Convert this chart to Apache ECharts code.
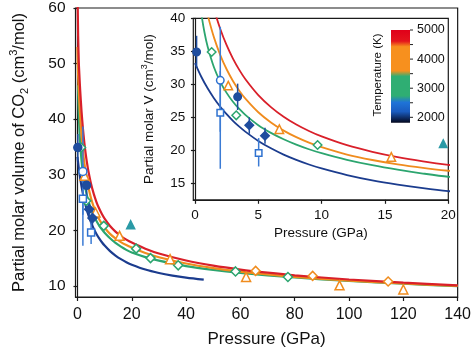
<!DOCTYPE html>
<html><head><meta charset="utf-8">
<script src="https://cdn.jsdelivr.net/npm/echarts@6/dist/echarts.min.js"></script>
<style>html,body{margin:0;padding:0;background:#fff}#c{width:474px;height:353px}</style>
</head><body><div id="c"></div>
<script>
// ---- curves ----
const curvePressure = [0,0.25,0.5,0.75,1,1.5,2,2.5,3,3.5,4,5,6,7,8,9,10,12,14,16,18,20,25,30,40,50,60,70,80,100,120,140];
const curveRed    = [64,55,50.2,47.55,45.24,41.42,38.39,35.93,33.90,32.19,30.73,28.37,26.55,25.09,23.91,22.93,22.10,20.77,19.77,18.97,18.33,17.80,16.70,15.83,14.56,13.64,12.94,12.38,11.90,11.15,10.58,10.10];
const curveOrange = [53,47.87,45.03,42.61,40.52,37.11,34.43,32.28,30.51,29.03,27.78,25.76,24.21,22.98,21.99,21.16,20.47,19.36,18.53,17.87,17.34,16.90,15.91,15.15,14.02,13.20,12.57,12.06,11.63,10.95,10.43,10.00];
const greenPressure = [0.2,0.3,0.5,0.75,1,1.5,2,2.5,3,3.5,4,5,6,7,8,9,10,12,14,16,18,20,25,30,40,50,60,70,80,100,120,140];
const curveGreen    = [46.1,43.96,40.77,37.88,35.72,32.58,30.38,28.70,27.36,26.26,25.33,23.81,22.64,21.67,20.86,20.16,19.56,18.56,17.74,17.06,16.48,15.99,15.18,14.54,13.57,12.88,12.33,11.89,11.51,10.88,10.38,9.95];
const bluePressure = [0,0.5,1,1.5,2,2.5,3,3.5,4,5,6,7,8,9,10,12,14,16,18,20,25,30,35,40,46.5];
const curveBlue    = [33.2,31.14,29.39,27.9,26.6,25.47,24.47,23.58,22.79,21.42,20.30,19.35,18.55,17.85,17.25,16.25,15.45,14.81,14.27,13.82,12.94,12.32,11.85,11.48,11.11];

// ---- data points [P, V] ----
const filledCircles  = [[0.13,34.9],[3.37,28.1]];
const filledCircleErr = [[0.13,32.5,37.35],[3.37,26.1,30.1]];
const filledDiamonds = [[4.29,23.8],[5.53,22.2]];
const filledDiamondErr = [[4.29,22.5,25.0],[5.53,21.0,23.4]];
const openCircles = [[2.0,30.6]];
const openCircleErr = [[2.0,22.8,38.7]];
const openSquares = [[2.0,25.7],[5.03,19.6]];
const openSquareErr = [[2.0,17.2,32.0],[5.03,17.55,21.85]];
const greenDiamonds = [[1.32,34.9],[3.26,25.3],[9.68,20.8],[21.6,16.7],[26.9,15.0],[37.1,13.7],[58.2,12.6],[77.5,11.6]];
const orangeDiamonds = [[65.6,12.7],[86.6,11.8],[114.4,10.8]];
const orangeTriangles = [[2.63,29.8],[6.66,23.2],[15.5,19.0],[34.1,14.8],[62.1,11.6],[96.5,10.1],[120,9.35]];
const tealTriangles = [[19.6,21.0]];

// ---- ticks ----
const mainXTicks = [0,20,40,60,80,100,120,140];
const mainYTicks = [10,20,30,40,50,60];
const insetXTicks = [0,5,10,15,20];
const insetYTicks = [15,20,25,30,35,40];
const cbLabels = [2000,3000,4000,5000];
const cbMinorTicks = [2000,2500,3000,3500,4000,4500,5000];

const C = {red:'#d9202a', orange:'#f08c1e', green:'#2ca56f', blue:'#1b3c8e',
  filled:'#1f4d9e', open:'#2f72d0', openErr:'#3b7bd4', teal:'#2a9aa6', axis:'#1a1a1a'};
const FONT = 'Liberation Sans, Arial, sans-serif';

function pairs(xs, ys){ return xs.map((x,i)=>[x,ys[i]]); }
function line(g, xs, ys, color, w){
  return {type:'line', xAxisIndex:g, yAxisIndex:g, data:pairs(xs,ys), showSymbol:false, symbol:'none',
    smooth:0.3, lineStyle:{color, width:w}, clip:true, silent:true, z:2};
}
function err(g, data, color){
  return {type:'custom', xAxisIndex:g, yAxisIndex:g, data, silent:true, z:3,
    renderItem:(params, api)=>{
      const x = api.value(0);
      const a = api.coord([x, api.value(1)]), b = api.coord([x, api.value(2)]);
      return {type:'line', shape:{x1:a[0],y1:a[1],x2:b[0],y2:b[1]}, style:{stroke:color, lineWidth:1.5}};
    }};
}
function sc(g, data, symbol, size, fill, stroke){
  return {type:'scatter', xAxisIndex:g, yAxisIndex:g, data, symbol, symbolSize:size, silent:true, z:4, clip:true,
    itemStyle:{color:fill, borderColor:stroke, borderWidth:1.5, opacity:1}};
}
const series = [];
[[0,2.2,8],[1,1.8,7.5]].forEach(([g,w,s])=>{
  series.push(line(g, bluePressure, curveBlue, C.blue, w));
  series.push(line(g, greenPressure, curveGreen, C.green, w));
  series.push(line(g, curvePressure, curveOrange, C.orange, w));
  series.push(line(g, curvePressure, curveRed, C.red, w));
  series.push(err(g, openCircleErr, C.openErr));
  series.push(err(g, openSquareErr, C.openErr));
  series.push(err(g, filledCircleErr, C.filled));
  series.push(err(g, filledDiamondErr, C.filled));
  series.push(sc(g, greenDiamonds, 'diamond', s+1, '#fff', C.green));
  series.push(sc(g, orangeDiamonds, 'diamond', s+1, '#fff', C.orange));
  series.push(sc(g, orangeTriangles, 'triangle', s+1, '#fff', C.orange));
  series.push(sc(g, tealTriangles, 'triangle', s, C.teal, C.teal));
  series.push(sc(g, openSquares, 'rect', s-1, '#fff', C.open));
  series.push(sc(g, openCircles, 'circle', s, '#fff', C.open));
  series.push(sc(g, filledCircles, 'circle', s, C.filled, C.filled));
  series.push(sc(g, filledDiamonds, 'diamond', s+1, C.filled, C.filled));
});

function xAx(g, min, max, ticks, fs, name, nfs, gap, margin){
  return {gridIndex:g, type:'value', min, max, splitLine:{show:false},
    axisLine:{lineStyle:{color:C.axis, width:1.2}},
    axisTick:{customValues:ticks, length:4, lineStyle:{color:C.axis, width:1.2}},
    axisLabel:{customValues:ticks, fontSize:fs, color:'#111', margin, fontFamily:FONT},
    name, nameLocation:'middle', nameGap:gap, nameTextStyle:{fontSize:nfs, color:'#111', fontFamily:FONT}};
}
function yAx(g, min, max, ticks, fs, name, nfs, gap, margin){
  const subFs = Math.round(nfs*0.68);
  return {gridIndex:g, type:'value', min, max, splitLine:{show:false},
    axisLine:{lineStyle:{color:C.axis, width:1.2}},
    axisTick:{customValues:ticks, length:4, lineStyle:{color:C.axis, width:1.2}},
    axisLabel:{customValues:ticks, fontSize:fs, color:'#111', margin, fontFamily:FONT},
    name, nameLocation:'middle', nameGap:gap,
    nameTextStyle:{fontSize:nfs, color:'#111', fontFamily:FONT, lineHeight:nfs+6,
      rich:{sub:{fontSize:subFs, lineHeight:subFs+2, verticalAlign:'bottom', fontFamily:FONT, color:'#111'},
            sup:{fontSize:subFs, lineHeight:subFs+2, verticalAlign:'top', fontFamily:FONT, color:'#111'}}}};
}

// colorbar (legend) geometry
const cb = {x:391, y:30, w:19, h:92.7, tMin:1815, tMax:5000};
const tY = t => cb.y + (cb.tMax - t)/(cb.tMax - cb.tMin)*cb.h;
const graphic = [{type:'rect', shape:{x:cb.x, y:cb.y, width:cb.w, height:cb.h}, z:10,
  style:{fill:new echarts.graphic.LinearGradient(0,0,0,1,[
    {offset:0,color:'#e0001a'},{offset:0.12,color:'#e4141c'},{offset:0.18,color:'#f7901e'},
    {offset:0.44,color:'#f7901e'},{offset:0.50,color:'#2fae73'},{offset:0.71,color:'#2fae73'},
    {offset:0.78,color:'#1f74d8'},{offset:0.88,color:'#1a5cc0'},{offset:1,color:'#04081e'}])}}];
cbMinorTicks.forEach(t=>graphic.push({type:'line', z:10, shape:{x1:cb.x+cb.w, y1:tY(t), x2:cb.x+cb.w+3, y2:tY(t)}, style:{stroke:'#222', lineWidth:1}}));
cbLabels.forEach(t=>graphic.push({type:'text', z:10, x:cb.x+cb.w+7, y:tY(t), style:{text:String(t), font:'12.5px '+FONT, fill:'#111', align:'left', verticalAlign:'middle'}}));
graphic.push({type:'text', z:10, x:378, y:75, rotation:Math.PI/2, style:{text:'Temperature (K)', font:'11.5px '+FONT, fill:'#111', align:'center', verticalAlign:'middle'}});

const chart = echarts.init(document.getElementById('c'), null, {renderer:'canvas'});
chart.setOption({
  animation:false,
  textStyle:{fontFamily:FONT},
  grid:[
    {left:66, top:8, right:14.7, bottom:55.3, show:true, borderColor:C.axis, borderWidth:1.2},
    {left:193.3, top:18.3, right:25.7, bottom:153.2, show:true, borderColor:C.axis, borderWidth:1.2}
  ],
  xAxis:[
    xAx(0, -0.72, 140, mainXTicks, 16, 'Pressure (GPa)', 17, 34, 10),
    xAx(1, -0.13, 20, insetXTicks, 13.5, 'Pressure (GPa)', 13.5, 24, 8)
  ],
  yAxis:[
    yAx(0, 8, 60, mainYTicks, 15.5, 'Partial molar volume of CO{sub|2} (cm{sup|3}/mol)', 16.5, 45, 10),
    yAx(1, 12.5, 40, insetYTicks, 13.5, 'Partial molar V (cm{sup|3}/mol)', 13.5, 34, 8)
  ],
  series,
  graphic
});
</script></body></html>
